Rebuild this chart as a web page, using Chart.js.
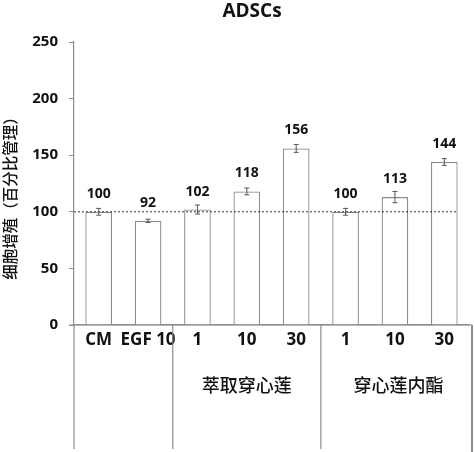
<!DOCTYPE html>
<html>
<head>
<meta charset="utf-8">
<script src="https://cdn.jsdelivr.net/npm/chart.js@4.4.1/dist/chart.umd.min.js"></script>
<style>
  body { margin: 0; background: #fff; }
  #wrap { width: 474px; height: 452px; }
</style>
</head>
<body>
<div id="wrap"><canvas id="adscChart" width="474" height="452"></canvas></div>
<script>
// Data
const categories = ['CM', 'EGF 10', '1', '10', '30', '1', '10', '30'];
const values = [100, 92, 102, 118, 156, 100, 113, 144];
const errors = [3, 1.5, 4, 3, 3.5, 3, 5, 3];
const groups = [
  { label: '萃取穿心莲', from: 2, to: 4 },
  { label: '穿心莲内酯', from: 5, to: 7 }
];
const yTicks = [0, 50, 100, 150, 200, 250];
const refLine = 100;
const chartTitle = 'ADSCs';
const yTitle = '细胞增殖（百分比管理）';

const latin = "'Open Sans', 'Noto Sans CJK SC', sans-serif";
const cjk = "'Noto Sans CJK SC', sans-serif";
const lineGrey = '#8c8c8c';

Chart.defaults.font.family = latin;
Chart.defaults.color = '#111';

// Extra drawing: error bars, value labels, dotted 100 line, group table, titles
const extras = {
  id: 'extras',
  afterDatasetsDraw(chart) {
    const ctx = chart.ctx;
    const ys = chart.scales.y;
    const meta = chart.getDatasetMeta(0);
    const area = chart.chartArea;

    // dotted reference line
    const last = meta.data[meta.data.length - 1];
    ctx.save();
    ctx.strokeStyle = '#333';
    ctx.lineWidth = 1;
    ctx.setLineDash([2, 2]);
    ctx.beginPath();
    ctx.moveTo(area.left, ys.getPixelForValue(refLine));
    ctx.lineTo(last.x + last.width / 2, ys.getPixelForValue(refLine));
    ctx.stroke();
    ctx.restore();

    // error bars + labels
    ctx.save();
    ctx.strokeStyle = '#555';
    ctx.lineWidth = 1;
    meta.data.forEach((bar, i) => {
      const top = ys.getPixelForValue(values[i] + errors[i]);
      const bot = ys.getPixelForValue(values[i] - errors[i]);
      ctx.beginPath();
      ctx.moveTo(bar.x, top); ctx.lineTo(bar.x, bot);
      ctx.moveTo(bar.x - 2.5, top); ctx.lineTo(bar.x + 2.5, top);
      ctx.moveTo(bar.x - 2.5, bot); ctx.lineTo(bar.x + 2.5, bot);
      ctx.stroke();
      ctx.fillStyle = '#111';
      ctx.font = 'bold 14px ' + latin;
      ctx.textAlign = 'center';
      ctx.textBaseline = 'middle';
      ctx.fillText(String(values[i]), bar.x, bar.y - 18);
    });
    ctx.restore();
  },
  afterDraw(chart) {
    const ctx = chart.ctx;
    const xs = chart.scales.x;
    const area = chart.chartArea;
    const H = chart.height;
    const half = (xs.getPixelForValue(1) - xs.getPixelForValue(0)) / 2;
    const rightEdge = chart.width - 2;

    ctx.save();
    ctx.strokeStyle = lineGrey;
    ctx.lineWidth = 1.2;
    ctx.beginPath();
    // baseline extension and left border going down
    ctx.moveTo(area.left - 5, area.bottom); ctx.lineTo(rightEdge, area.bottom);
    ctx.moveTo(area.left, area.bottom); ctx.lineTo(area.left, H - 3);
    groups.forEach(g => {
      const x0 = xs.getPixelForValue(g.from) - half;
      ctx.moveTo(x0, area.bottom); ctx.lineTo(x0, H - 3);
    });
    ctx.stroke();
    ctx.lineWidth = 2;
    ctx.beginPath();
    ctx.moveTo(rightEdge, area.bottom); ctx.lineTo(rightEdge, H);
    ctx.stroke();

    // group labels
    ctx.fillStyle = '#111';
    ctx.font = '500 18px ' + cjk;
    ctx.textAlign = 'center';
    ctx.textBaseline = 'middle';
    groups.forEach((g, k) => {
      const x0 = xs.getPixelForValue(g.from) - half;
      const x1 = k < groups.length - 1 ? xs.getPixelForValue(g.to) + half : rightEdge;
      ctx.fillText(g.label, (x0 + x1) / 2 + k * 2, area.bottom + 60);
    });

    // chart title
    ctx.font = 'bold 19px ' + latin;
    ctx.fillText(chartTitle, 252, 12);

    // y axis title
    ctx.translate(10, (area.top + area.bottom) / 2 + 11);
    ctx.rotate(-Math.PI / 2);
    ctx.font = '500 15.5px ' + cjk;
    ctx.fillText(yTitle, 0, 0);
    ctx.restore();
  }
};

new Chart(document.getElementById('adscChart'), {
  type: 'bar',
  data: {
    labels: categories,
    datasets: [{
      data: values,
      backgroundColor: '#ffffff',
      borderColor: lineGrey,
      borderWidth: 1.3,
      categoryPercentage: 1,
      barPercentage: 0.54
    }]
  },
  options: {
    responsive: false,
    animation: false,
    devicePixelRatio: 1,
    layout: { padding: { top: 42, right: 5, left: 0, bottom: 0 } },
    plugins: {
      legend: { display: false },
      tooltip: { enabled: false }
    },
    scales: {
      x: {
        grid: { display: false, drawTicks: false },
        border: { display: true, color: lineGrey, width: 1.2 },
        ticks: {
          padding: 5,
          color: '#111',
          font: { size: 17, weight: 'bold' },
          maxRotation: 0,
          autoSkip: false
        },
        afterFit(scale) { scale.height = 127; }
      },
      y: {
        min: 0,
        max: 250,
        afterBuildTicks(scale) { scale.ticks = yTicks.map(v => ({ value: v })); },
        grid: { drawOnChartArea: false, drawTicks: true, tickLength: 5, color: lineGrey },
        border: { display: true, color: lineGrey, width: 1.2 },
        ticks: {
          padding: 11,
          color: '#111',
          font: { size: 15, weight: 'bold' }
        },
        afterFit(scale) { scale.width = 74; }
      }
    }
  },
  plugins: [extras]
});
</script>
</body>
</html>
